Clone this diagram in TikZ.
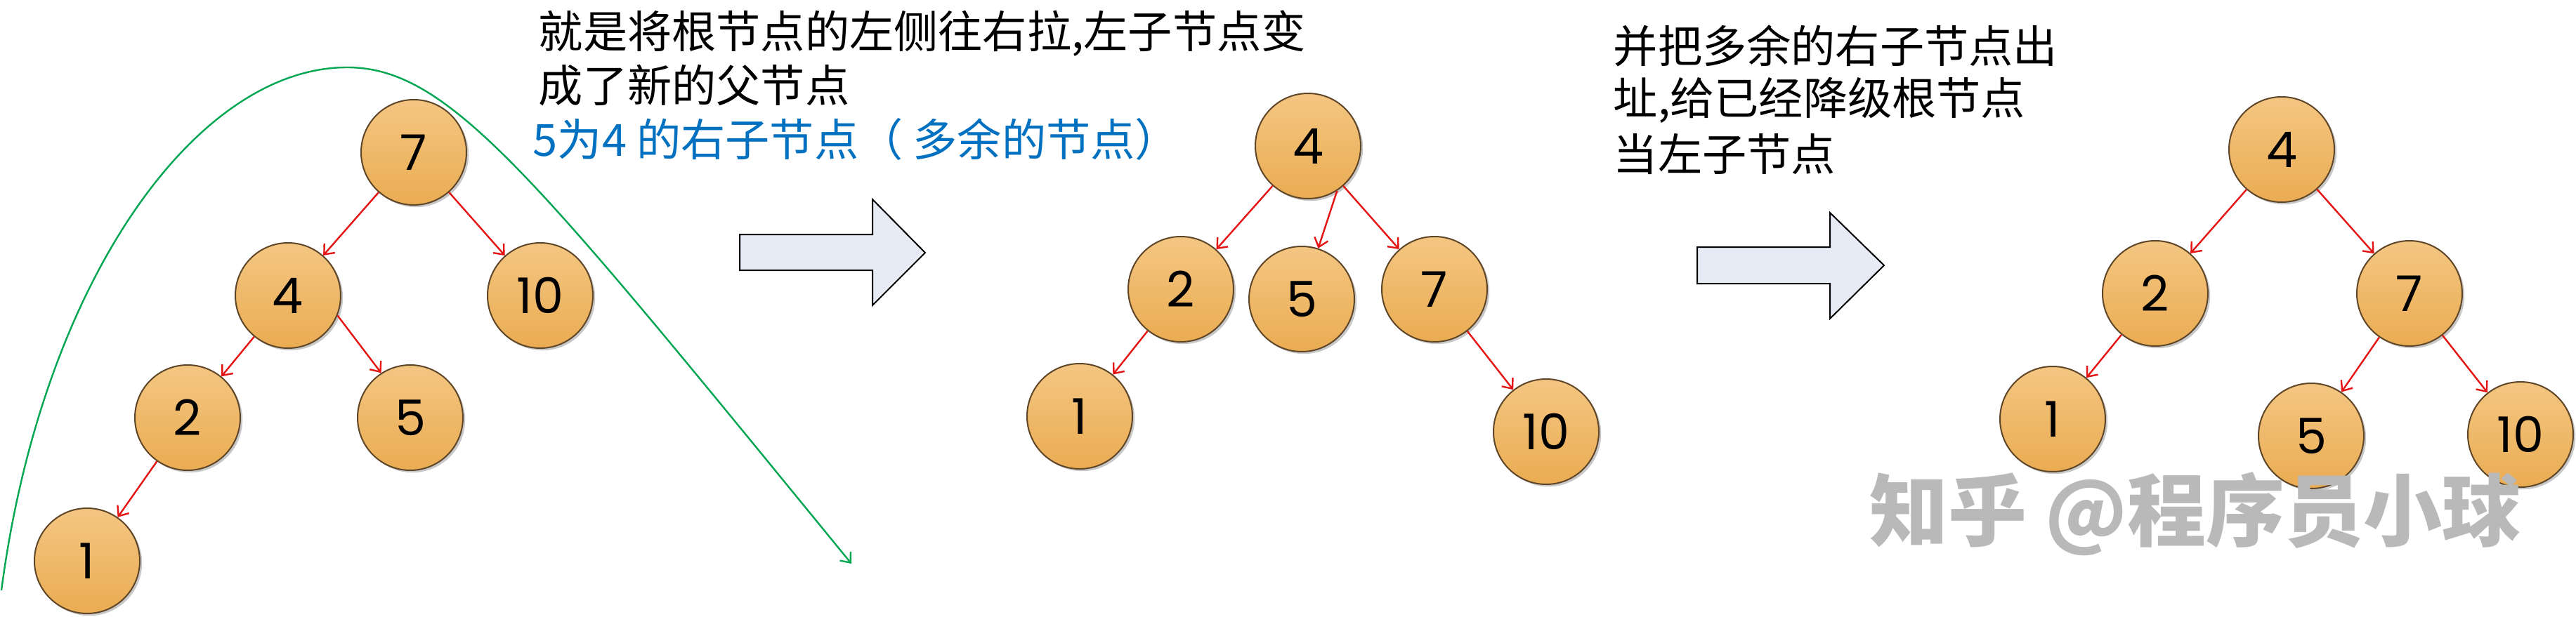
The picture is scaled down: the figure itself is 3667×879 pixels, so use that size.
\documentclass[tikz,border=0pt]{standalone}
\usepackage{fontspec}
\newfontfamily\cjk{Noto Sans CJK SC}
\newfontfamily\digitfont{Poppins}
\usetikzlibrary{arrows.meta,shadows}
\definecolor{nodetop}{RGB}{244,198,130}
\definecolor{nodebot}{RGB}{234,172,82}
\definecolor{nodeborder}{RGB}{95,70,40}
\definecolor{edgered}{RGB}{228,20,20}
\definecolor{curvegreen}{RGB}{0,166,81}
\definecolor{arrowfill}{RGB}{230,235,246}
\definecolor{noteblue}{RGB}{0,112,192}
\definecolor{wmgray}{RGB}{185,185,185}
\begin{document}
\begin{tikzpicture}[x=0.25pt,y=-0.25pt,
  tn/.style={circle,minimum size=37.5pt,inner sep=0pt,draw=nodeborder,line width=0.5pt,
    top color=nodetop,bottom color=nodebot,
    font=\digitfont\fontsize{17.5}{20}\selectfont,
    drop shadow={shadow xshift=0.8pt,shadow yshift=-0.8pt,opacity=0.3,fill=black!70}},
  redline/.style={draw=edgered,line width=0.6pt,-{Straight Barb[length=3pt,width=5pt]}},
  bigarrow/.style={draw=black,line width=0.5pt,fill=arrowfill,line join=miter},
  note/.style={anchor=west,inner sep=0pt,font=\cjk\fontsize{15.8}{18}\selectfont},
  wmtext/.style={inner sep=0pt,font=\cjk\bfseries\fontsize{28}{30}\selectfont}]
\useasboundingbox (0,0) rectangle (3667,879);
\fill[white] (0,0) rectangle (3667,879);

% ---------- green rotation curve ----------
\draw[curvegreen,line width=0.6pt,-{Straight Barb[length=3pt,width=5pt]}]
  (2,841) .. controls (60,400) and (280,96) .. (494,96)
          .. controls (640,96) and (760,250) .. (1212,803);

% ---------- tree 1 ----------
\node[tn] (a7)  at (589,217) {7};
\node[tn] (a4)  at (410,421) {4};
\node[tn] (a10) at (769,421) {10};
\node[tn] (a2)  at (267,595) {2};
\node[tn] (a5)  at (584,595) {5};
\node[tn] (a1)  at (124,799) {1};
\draw[redline] (a7) -- (a4);
\draw[redline] (a7) -- (a10);
\draw[redline] (a4) -- (a2);
\draw[redline] (a4.-22) -- (a5.123);
\draw[redline] (a2) -- (a1);

% ---------- text 1 ----------
\node[note] (t1a) at (766,48) {就是将根节点的左侧往右拉,左子节点变};
\node[note] (t1b) at (766,122) {成了新的父节点};
\node[note,text=noteblue] (t1c) at (758,198) {5为4 的右子节点（ 多余的节点）};

% ---------- block arrow 1 ----------
\draw[bigarrow] (1053,334) -- (1242,334) -- (1242,284) -- (1317,360)
  -- (1242,435) -- (1242,385) -- (1053,385) -- cycle;

% ---------- tree 2 ----------
\node[tn] (b4)  at (1862,208) {4};
\node[tn] (b2)  at (1681,412) {2};
\node[tn] (b5)  at (1853,426) {5};
\node[tn] (b7)  at (2042,412) {7};
\node[tn] (b1)  at (1537,593) {1};
\node[tn] (b10) at (2201,615) {10};
\draw[redline] (b4) -- (b2);
\draw[redline] (b4.-57) -- (b5.72);
\draw[redline] (b4) -- (b7);
\draw[redline] (b2) -- (b1);
\draw[redline] (b7) -- (b10);

% ---------- text 2 ----------
\node[note] (t2a) at (2296,65) {并把多余的右子节点出};
\node[note] (t2b) at (2296,143) {址,给已经降级根节点};
\node[note] (t2c) at (2296,220) {当左子节点};

% ---------- block arrow 2 ----------
\draw[bigarrow] (2416,352) -- (2605,352) -- (2605,303) -- (2682,378)
  -- (2605,454) -- (2605,404) -- (2416,404) -- cycle;

% ---------- tree 3 ----------
\node[tn] (c4)  at (3248,213) {4};
\node[tn] (c2)  at (3068,418) {2};
\node[tn] (c7)  at (3430,418) {7};
\node[tn] (c1)  at (2922,597) {1};
\node[tn] (c5)  at (3290,621) {5};
\node[tn] (c10) at (3588,619) {10};
\draw[redline] (c4) -- (c2);
\draw[redline] (c4) -- (c7);
\draw[redline] (c2) -- (c1);
\draw[redline] (c7) -- (c5);
\draw[redline] (c7) -- (c10);

% ---------- watermark ----------
\node[wmtext,text=wmgray] (wm) at (3125,732) {知乎 @程序员小球};
\end{tikzpicture}
\end{document}
